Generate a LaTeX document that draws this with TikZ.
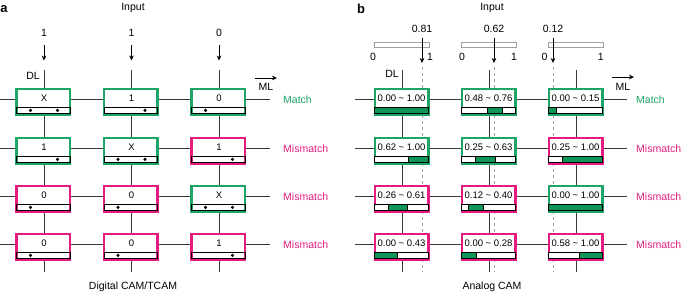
\documentclass[tikz,border=0pt]{standalone}
\usepackage{fontspec}
\setmainfont{Liberation Sans}
\usetikzlibrary{arrows.meta}
\definecolor{cgreen}{RGB}{28,165,100}
\definecolor{cfill}{RGB}{14,150,88}
\definecolor{cmag}{RGB}{228,28,128}
\definecolor{wire}{RGB}{55,55,55}
\definecolor{dashgray}{RGB}{160,160,160}
\begin{document}
\begin{tikzpicture}[x=1pt,y=-1pt,
  wireline/.style={draw=wire, line width=0.8pt},
  dashline/.style={draw=dashgray, line width=0.8pt, dash pattern=on 3pt off 3pt},
  inarrow/.style={draw=black, line width=0.8pt, -{Stealth[length=5pt,width=4.6pt]}},
  cellbox/.style={draw=#1, line width=2.4pt, fill=white, minimum width=53.6pt, minimum height=25.3pt, inner sep=0pt},
  stripline/.style={draw=black, line width=0.7pt},
  celltext/.style={inner sep=0pt, font=\fontsize{9.5}{11}\selectfont},
  lbl/.style={inner sep=0pt, font=\fontsize{10.5}{12}\selectfont},
  panel/.style={inner sep=0pt, font=\fontsize{13}{14}\selectfont\bfseries},
  res/.style={inner sep=0pt, anchor=west, font=\fontsize{10.5}{12}\selectfont, text=#1},
  scalebar/.style={draw=dashgray, line width=0.7pt, fill=white},
  bitdot/.style={fill=black, circle, inner sep=0pt, minimum size=3.4pt}
]
\useasboundingbox (0,0) rectangle (685,295);

% ================= Panel a =================
\node[panel] (pa) at (4,9) {a};
\node[lbl] (ina) at (133,8) {Input};
\node[lbl] (dla) at (33,76) {DL};
\node[lbl] (mla) at (266,87) {ML};
\coordinate (mla-s) at (255,78);
\coordinate (mla-e) at (277,78);
\draw[inarrow] (mla-s) -- (mla-e);
\node[lbl] (capa) at (133,287) {Digital CAM/TCAM};

\foreach \c/\x/\v in {1/44/1,2/131.5/1,3/219/0}{
  \node[lbl] (av\c) at (\x,33) {\v};
  \coordinate (aa\c-s) at (\x,45);
  \coordinate (aa\c-e) at (\x,60.5);
  \draw[inarrow] (aa\c-s) -- (aa\c-e);
  \coordinate (ac\c-t) at (\x,70);
  \coordinate (ac\c-b) at (\x,272);
  \draw[wireline] (ac\c-t) -- (ac\c-b);
}
\foreach \r/\y/\res/\cl in {1/99/Match/cgreen,2/148/Mismatch/cmag,3/196/Mismatch/cmag,4/244/Mismatch/cmag}{
  \coordinate (ar\r-l) at (0,\y);
  \coordinate (ar\r-r) at (270,\y);
  \draw[wireline] (ar\r-l) -- (ar\r-r);
  \node[res=\cl] (ares\r) at (283,\y+1) {\res};
}
\foreach \n/\x/\y/\t/\cl/\dl/\dr in {
  a11/44/99/X/cgreen/1/1, a12/131.5/99/1/cgreen/0/1, a13/219/99/0/cgreen/1/0,
  a21/44/148/1/cgreen/0/1, a22/131.5/148/X/cgreen/1/1, a23/219/148/1/cmag/0/1,
  a31/44/196/0/cmag/1/0, a32/131.5/196/0/cmag/1/0, a33/219/196/X/cgreen/1/1,
  a41/44/244/0/cmag/1/0, a42/131.5/244/0/cmag/1/0, a43/219/244/1/cmag/0/1}{
  \node[cellbox=\cl] (\n) at (\x-0.8,\y+2.85) {};
  \node[celltext] (\n-t) at (\x,\y-1) {\t};
  \draw[stripline] (\x-27.3,\y+8) rectangle (\x+25.9,\y+14.8);
  \ifnum\dl=1 \node[bitdot] (\n-dl) at (\x-13.5,\y+11.4) {}; \fi
  \ifnum\dr=1 \node[bitdot] (\n-dr) at (\x+13.5,\y+11.4) {}; \fi
}

% ================= Panel b =================
\node[panel] (pb) at (361,9) {b};
\node[lbl] (inb) at (492,8) {Input};
\node[lbl] (dlb) at (392,74) {DL};
\node[lbl] (mlb) at (623,87) {ML};
\coordinate (mlb-s) at (612,77);
\coordinate (mlb-e) at (634,77);
\draw[inarrow] (mlb-s) -- (mlb-e);
\node[lbl] (capb) at (492,287) {Analog CAM};

\foreach \c/\x/\tv/\v/\zx/\ox in {1/402/422/0.81/373/430, 2/489/494/0.62/462/514, 3/576/553/0.12/544.5/600.7}{
  \node[lbl] (bv\c) at (\tv,29) {\v};
  \draw[scalebar] (\x-28,42) rectangle (\x+27,47);
  \node[lbl] (bz\c) at (\zx,57) {0};
  \node[lbl] (bo\c) at (\ox,57) {1};
  \coordinate (ba\c-s) at (\tv,38);
  \coordinate (ba\c-e) at (\tv,63);
  \draw[inarrow] (ba\c-s) -- (ba\c-e);
  \coordinate (bd\c-t) at (\tv,67);
  \coordinate (bd\c-b) at (\tv,272);
  \draw[dashline] (bd\c-t) -- (bd\c-b);
  \coordinate (bc\c-t) at (\x,70);
  \coordinate (bc\c-b) at (\x,272);
  \draw[wireline] (bc\c-t) -- (bc\c-b);
}
\foreach \r/\y/\res/\cl in {1/99/Match/cgreen,2/148/Mismatch/cmag,3/196/Mismatch/cmag,4/244/Mismatch/cmag}{
  \coordinate (br\r-l) at (355,\y);
  \coordinate (br\r-r) at (627,\y);
  \draw[wireline] (br\r-l) -- (br\r-r);
  \node[res=\cl] (bres\r) at (636,\y+1) {\res};
}
\foreach \n/\x/\y/\lo/\hi/\cl in {
  b11/402/99/0.00/1.00/cgreen, b12/489/99/0.48/0.76/cgreen, b13/576/99/0.00/0.15/cgreen,
  b21/402/148/0.62/1.00/cgreen, b22/489/148/0.25/0.63/cgreen, b23/576/148/0.25/1.00/cmag,
  b31/402/196/0.26/0.61/cmag, b32/489/196/0.12/0.40/cmag, b33/576/196/0.00/1.00/cgreen,
  b41/402/244/0.00/0.43/cmag, b42/489/244/0.00/0.28/cmag, b43/576/244/0.58/1.00/cmag}{
  \node[cellbox=\cl] (\n) at (\x-0.5,\y+2.85) {};
  \node[celltext] (\n-t) at (\x-0.5,\y-1) {\lo\ \textasciitilde\ \hi};
  \pgfmathsetmacro\xl{\x-27.5+54*\lo}
  \pgfmathsetmacro\xh{\x-27.5+54*\hi}
  \draw[stripline, fill=white] (\x-27.5,\y+8) rectangle (\x+26.5,\y+14.8);
  \draw[stripline, fill=cfill] (\xl,\y+8) rectangle (\xh,\y+14.8);
}
\end{tikzpicture}
\end{document}
